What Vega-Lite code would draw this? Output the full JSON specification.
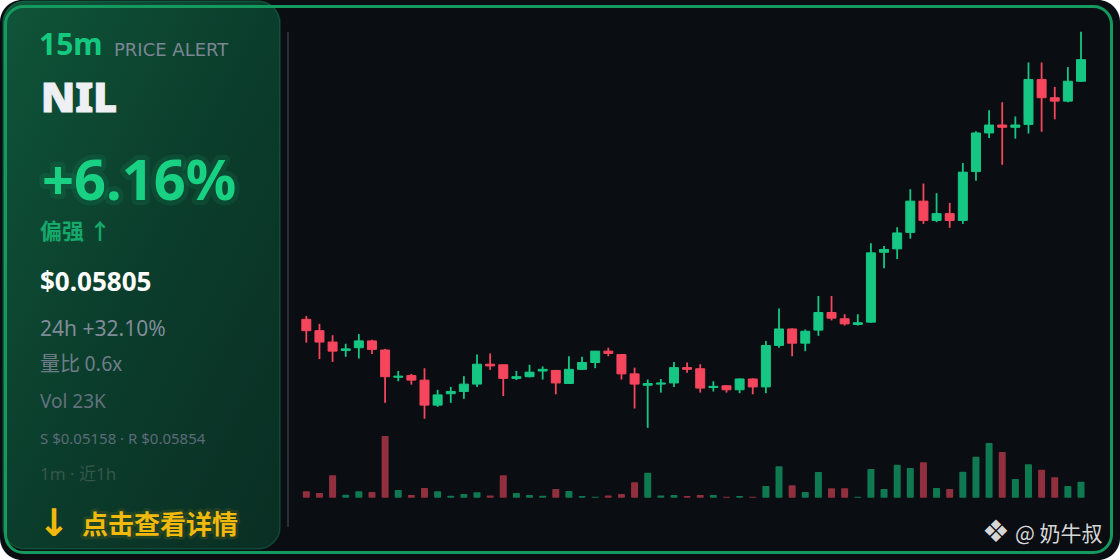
{
  "$schema": "https://vega.github.io/schema/vega-lite/v6.json",
  "width": 1120,
  "height": 560,
  "padding": 0,
  "autosize": {"type": "fit", "contains": "padding"},
  "background": "#ffffff",
  "config": {"view": {"stroke": null}},
  "datasets": {
    "candles": [
      {"i": 0, "open": 0.05348, "high": 0.05354, "low": 0.05307, "close": 0.05328, "vol": 640},
      {"i": 1, "open": 0.05328, "high": 0.05340, "low": 0.05278, "close": 0.05308, "vol": 470},
      {"i": 2, "open": 0.05308, "high": 0.05320, "low": 0.05273, "close": 0.05292, "vol": 2240},
      {"i": 3, "open": 0.05293, "high": 0.05305, "low": 0.05282, "close": 0.05296, "vol": 300},
      {"i": 4, "open": 0.05298, "high": 0.05322, "low": 0.05279, "close": 0.05310, "vol": 640},
      {"i": 5, "open": 0.05310, "high": 0.05312, "low": 0.05287, "close": 0.05295, "vol": 570},
      {"i": 6, "open": 0.05294, "high": 0.05296, "low": 0.05201, "close": 0.05247, "vol": 6170},
      {"i": 7, "open": 0.05246, "high": 0.05257, "low": 0.05239, "close": 0.05248, "vol": 770},
      {"i": 8, "open": 0.05249, "high": 0.05252, "low": 0.05233, "close": 0.05241, "vol": 270},
      {"i": 9, "open": 0.05241, "high": 0.05262, "low": 0.05173, "close": 0.05197, "vol": 970},
      {"i": 10, "open": 0.05197, "high": 0.05224, "low": 0.05194, "close": 0.05215, "vol": 640},
      {"i": 11, "open": 0.05217, "high": 0.05229, "low": 0.05201, "close": 0.05221, "vol": 200},
      {"i": 12, "open": 0.05221, "high": 0.05248, "low": 0.05208, "close": 0.05234, "vol": 370},
      {"i": 13, "open": 0.05234, "high": 0.05286, "low": 0.05229, "close": 0.05269, "vol": 540},
      {"i": 14, "open": 0.05269, "high": 0.05288, "low": 0.05259, "close": 0.05266, "vol": 230},
      {"i": 15, "open": 0.05268, "high": 0.05268, "low": 0.05213, "close": 0.05244, "vol": 2240},
      {"i": 16, "open": 0.05244, "high": 0.05257, "low": 0.05241, "close": 0.05247, "vol": 470},
      {"i": 17, "open": 0.05247, "high": 0.05268, "low": 0.05246, "close": 0.05255, "vol": 270},
      {"i": 18, "open": 0.05257, "high": 0.05265, "low": 0.05242, "close": 0.05260, "vol": 200},
      {"i": 19, "open": 0.05258, "high": 0.05259, "low": 0.05216, "close": 0.05236, "vol": 870},
      {"i": 20, "open": 0.05235, "high": 0.05283, "low": 0.05234, "close": 0.05260, "vol": 670},
      {"i": 21, "open": 0.05260, "high": 0.05282, "low": 0.05259, "close": 0.05272, "vol": 170},
      {"i": 22, "open": 0.05272, "high": 0.05292, "low": 0.05262, "close": 0.05292, "vol": 100},
      {"i": 23, "open": 0.05292, "high": 0.05298, "low": 0.05283, "close": 0.05288, "vol": 230},
      {"i": 24, "open": 0.05286, "high": 0.05287, "low": 0.05242, "close": 0.05252, "vol": 370},
      {"i": 25, "open": 0.05252, "high": 0.05263, "low": 0.05191, "close": 0.05234, "vol": 1540},
      {"i": 26, "open": 0.05232, "high": 0.05242, "low": 0.05157, "close": 0.05235, "vol": 2500},
      {"i": 27, "open": 0.05234, "high": 0.05243, "low": 0.05219, "close": 0.05236, "vol": 230},
      {"i": 28, "open": 0.05236, "high": 0.05273, "low": 0.05229, "close": 0.05263, "vol": 270},
      {"i": 29, "open": 0.05263, "high": 0.05272, "low": 0.05254, "close": 0.05260, "vol": 170},
      {"i": 30, "open": 0.05261, "high": 0.05269, "low": 0.05219, "close": 0.05227, "vol": 270},
      {"i": 31, "open": 0.05228, "high": 0.05239, "low": 0.05221, "close": 0.05230, "vol": 270},
      {"i": 32, "open": 0.05231, "high": 0.05232, "low": 0.05219, "close": 0.05224, "vol": 100},
      {"i": 33, "open": 0.05224, "high": 0.05244, "low": 0.05218, "close": 0.05243, "vol": 170},
      {"i": 34, "open": 0.05243, "high": 0.05244, "low": 0.05216, "close": 0.05229, "vol": 100},
      {"i": 35, "open": 0.05229, "high": 0.05310, "low": 0.05218, "close": 0.05302, "vol": 1170},
      {"i": 36, "open": 0.05302, "high": 0.05367, "low": 0.05298, "close": 0.05331, "vol": 3140},
      {"i": 37, "open": 0.05331, "high": 0.05332, "low": 0.05283, "close": 0.05306, "vol": 1240},
      {"i": 38, "open": 0.05306, "high": 0.05330, "low": 0.05292, "close": 0.05327, "vol": 570},
      {"i": 39, "open": 0.05329, "high": 0.05389, "low": 0.05319, "close": 0.05360, "vol": 2570},
      {"i": 40, "open": 0.05360, "high": 0.05389, "low": 0.05346, "close": 0.05350, "vol": 940},
      {"i": 41, "open": 0.05349, "high": 0.05357, "low": 0.05337, "close": 0.05340, "vol": 940},
      {"i": 42, "open": 0.05339, "high": 0.05357, "low": 0.05337, "close": 0.05342, "vol": 100},
      {"i": 43, "open": 0.05343, "high": 0.05482, "low": 0.05342, "close": 0.05465, "vol": 2870},
      {"i": 44, "open": 0.05466, "high": 0.05477, "low": 0.05438, "close": 0.05471, "vol": 870},
      {"i": 45, "open": 0.05472, "high": 0.05510, "low": 0.05454, "close": 0.05500, "vol": 3300},
      {"i": 46, "open": 0.05501, "high": 0.05577, "low": 0.05490, "close": 0.05556, "vol": 2970},
      {"i": 47, "open": 0.05556, "high": 0.05587, "low": 0.05516, "close": 0.05522, "vol": 3540},
      {"i": 48, "open": 0.05522, "high": 0.05570, "low": 0.05519, "close": 0.05534, "vol": 970},
      {"i": 49, "open": 0.05534, "high": 0.05553, "low": 0.05509, "close": 0.05522, "vol": 870},
      {"i": 50, "open": 0.05522, "high": 0.05623, "low": 0.05516, "close": 0.05607, "vol": 2600},
      {"i": 51, "open": 0.05608, "high": 0.05679, "low": 0.05592, "close": 0.05676, "vol": 4100},
      {"i": 52, "open": 0.05676, "high": 0.05716, "low": 0.05667, "close": 0.05690, "vol": 5470},
      {"i": 53, "open": 0.05690, "high": 0.05730, "low": 0.05620, "close": 0.05686, "vol": 4570},
      {"i": 54, "open": 0.05686, "high": 0.05705, "low": 0.05666, "close": 0.05690, "vol": 1870},
      {"i": 55, "open": 0.05691, "high": 0.05800, "low": 0.05675, "close": 0.05770, "vol": 3340},
      {"i": 56, "open": 0.05770, "high": 0.05800, "low": 0.05678, "close": 0.05738, "vol": 2800},
      {"i": 57, "open": 0.05738, "high": 0.05757, "low": 0.05700, "close": 0.05732, "vol": 2040},
      {"i": 58, "open": 0.05732, "high": 0.05792, "low": 0.05730, "close": 0.05767, "vol": 1170},
      {"i": 59, "open": 0.05767, "high": 0.05854, "low": 0.05766, "close": 0.05805, "vol": 1600}
    ]
  },
  "resolve": {"scale": {"y": "independent"}},
  "layer": [
    {
      "data": {"values": [{}]},
      "mark": {"type": "rect", "fill": "#0a0d11", "cornerRadius": 22},
      "encoding": {"x": {"value": 0}, "x2": {"value": 1120}, "y": {"value": 0}, "y2": {"value": 560}}
    },
    {
      "data": {"values": [{}]},
      "mark": {
        "type": "rect",
        "cornerRadius": 22,
        "fill": {
          "gradient": "linear", "x1": 0, "y1": 0, "x2": 1, "y2": 1,
          "stops": [{"offset": 0, "color": "#0f5539"}, {"offset": 0.5, "color": "#0b3d2c"}, {"offset": 1, "color": "#0a2e23"}]
        },
        "stroke": "#1fa36b",
        "strokeOpacity": 0.3,
        "strokeWidth": 1.5
      },
      "encoding": {"x": {"value": 3}, "x2": {"value": 280}, "y": {"value": 1}, "y2": {"value": 549}}
    },
    {
      "data": {"values": [{}]},
      "mark": {"type": "rect", "fillOpacity": 0, "stroke": "#14995f", "strokeWidth": 3, "cornerRadius": 18},
      "encoding": {"x": {"value": 5.5}, "x2": {"value": 1111.5}, "y": {"value": 6.5}, "y2": {"value": 552.5}}
    },
    {
      "data": {"values": [{}]},
      "mark": {"type": "rule", "stroke": "#2a2f35", "strokeWidth": 2},
      "encoding": {"x": {"value": 288}, "y": {"value": 32}, "y2": {"value": 527}}
    },
    {
      "data": {"name": "candles"},
      "mark": {"type": "bar", "width": 7, "cornerRadius": 1},
      "encoding": {
        "x": {"field": "i", "type": "quantitative", "scale": {"domain": [-23.33, 61.97], "nice": false, "zero": false, "padding": 0}, "axis": null},
        "y": {"field": "vol", "type": "quantitative", "scale": {"domain": [-6230, 49770], "nice": false, "zero": false}, "axis": null},
        "y2": {"datum": 0},
        "color": {"condition": {"test": "datum.close >= datum.open", "value": "#0f7a52"}, "value": "#922f3e"}
      }
    },
    {
      "data": {"name": "candles"},
      "mark": {"type": "rule", "strokeWidth": 1.8},
      "encoding": {
        "x": {"field": "i", "type": "quantitative", "scale": {"domain": [-23.33, 61.97], "nice": false, "zero": false, "padding": 0}, "axis": null},
        "y": {"field": "low", "type": "quantitative", "scale": {"domain": [0.049244, 0.0591], "nice": false, "zero": false}, "axis": null},
        "y2": {"field": "high"},
        "color": {"condition": {"test": "datum.close >= datum.open", "value": "#16c784"}, "value": "#f6465d"}
      }
    },
    {
      "data": {"name": "candles"},
      "mark": {"type": "bar", "width": 9, "strokeWidth": 1},
      "encoding": {
        "x": {"field": "i", "type": "quantitative", "scale": {"domain": [-23.33, 61.97], "nice": false, "zero": false, "padding": 0}, "axis": null},
        "y": {"field": "open", "type": "quantitative", "scale": {"domain": [0.049244, 0.0591], "nice": false, "zero": false}, "axis": null},
        "y2": {"field": "close"},
        "color": {"condition": {"test": "datum.close >= datum.open", "value": "#16c784"}, "value": "#f6465d"},
        "stroke": {"condition": {"test": "datum.close >= datum.open", "value": "#16c784"}, "value": "#f6465d"}
      }
    },
    {
      "data": {"values": [{"t": "15m"}]},
      "mark": {"type": "text", "font": "Noto Sans", "fontWeight": "bold", "fontSize": 30, "fill": "#14c97f", "align": "left", "baseline": "alphabetic"},
      "encoding": {"text": {"field": "t"}, "x": {"value": 39}, "y": {"value": 55}}
    },
    {
      "data": {"values": [{"t": "PRICE ALERT"}]},
      "mark": {"type": "text", "font": "DejaVu Sans", "fontSize": 18, "fill": "#7a8793", "align": "left", "baseline": "alphabetic"},
      "encoding": {"text": {"field": "t"}, "x": {"value": 114}, "y": {"value": 56}}
    },
    {
      "data": {"values": [{"t": "NIL"}]},
      "mark": {"type": "text", "font": "Noto Sans", "fontWeight": 900, "fontSize": 41, "fill": "#eef0f4", "stroke": "#eef0f4", "strokeWidth": 1, "align": "left", "baseline": "alphabetic"},
      "encoding": {"text": {"field": "t"}, "x": {"value": 41}, "y": {"value": 112}}
    },
    {
      "data": {"values": [{"t": "+6.16%"}]},
      "mark": {"type": "text", "font": "Noto Sans", "fontWeight": "bold", "fontSize": 56, "fill": "#19d183", "fillOpacity": 0, "stroke": "#19d183", "strokeWidth": 10, "strokeOpacity": 0.1, "strokeJoin": "round", "align": "left", "baseline": "alphabetic"},
      "encoding": {"text": {"field": "t"}, "x": {"value": 42}, "y": {"value": 200}}
    },
    {
      "data": {"values": [{"t": "+6.16%"}]},
      "mark": {"type": "text", "font": "Noto Sans", "fontWeight": "bold", "fontSize": 56, "fill": "#19d183", "align": "left", "baseline": "alphabetic"},
      "encoding": {"text": {"field": "t"}, "x": {"value": 42}, "y": {"value": 200}}
    },
    {
      "data": {"values": [{"t": "偏强 ↑"}]},
      "mark": {"type": "text", "font": "Noto Sans CJK SC", "fontWeight": "bold", "fontSize": 22, "fill": "#15a96b", "align": "left", "baseline": "alphabetic"},
      "encoding": {"text": {"field": "t"}, "x": {"value": 40}, "y": {"value": 239}}
    },
    {
      "data": {"values": [{"t": "$0.05805"}]},
      "mark": {"type": "text", "font": "Noto Sans", "fontWeight": "bold", "fontSize": 26, "fill": "#ffffff", "align": "left", "baseline": "alphabetic"},
      "encoding": {"text": {"field": "t"}, "x": {"value": 40}, "y": {"value": 291}}
    },
    {
      "data": {"values": [{"t": "24h +32.10%"}]},
      "mark": {"type": "text", "font": "Noto Sans", "fontSize": 21, "fill": "#7f8c97", "align": "left", "baseline": "alphabetic"},
      "encoding": {"text": {"field": "t"}, "x": {"value": 40}, "y": {"value": 336}}
    },
    {
      "data": {"values": [{"t": "量比 0.6x"}]},
      "mark": {"type": "text", "font": "Noto Sans CJK SC", "fontSize": 20, "fill": "#6f7d89", "align": "left", "baseline": "alphabetic"},
      "encoding": {"text": {"field": "t"}, "x": {"value": 40}, "y": {"value": 371}}
    },
    {
      "data": {"values": [{"t": "Vol 23K"}]},
      "mark": {"type": "text", "font": "Noto Sans", "fontSize": 19, "fill": "#62717e", "align": "left", "baseline": "alphabetic"},
      "encoding": {"text": {"field": "t"}, "x": {"value": 40}, "y": {"value": 408}}
    },
    {
      "data": {"values": [{"t": "S $0.05158 · R $0.05854"}]},
      "mark": {"type": "text", "font": "Noto Sans", "fontSize": 15, "fill": "#5c6b78", "align": "left", "baseline": "alphabetic"},
      "encoding": {"text": {"field": "t"}, "x": {"value": 40}, "y": {"value": 444}}
    },
    {
      "data": {"values": [{"t": "1m · 近1h"}]},
      "mark": {"type": "text", "font": "Noto Sans, Noto Sans CJK SC", "fontSize": 17, "fill": "#35564d", "align": "left", "baseline": "alphabetic"},
      "encoding": {"text": {"field": "t"}, "x": {"value": 40}, "y": {"value": 480}}
    },
    {
      "data": {"values": [{"t": "↓"}]},
      "mark": {"type": "text", "font": "DejaVu Sans", "fontWeight": "bold", "fontSize": 38, "fill": "#f0b90b", "align": "center", "baseline": "alphabetic"},
      "encoding": {"text": {"field": "t"}, "x": {"value": 54}, "y": {"value": 536}}
    },
    {
      "data": {"values": [{"t": "点击查看详情"}]},
      "mark": {"type": "text", "font": "Noto Sans CJK SC", "fontWeight": "bold", "fontSize": 26, "fill": "#f0b90b", "fillOpacity": 0, "stroke": "#f0b90b", "strokeWidth": 6, "strokeOpacity": 0.1, "strokeJoin": "round", "align": "left", "baseline": "alphabetic"},
      "encoding": {"text": {"field": "t"}, "x": {"value": 82}, "y": {"value": 534}}
    },
    {
      "data": {"values": [{"t": "点击查看详情"}]},
      "mark": {"type": "text", "font": "Noto Sans CJK SC", "fontWeight": "bold", "fontSize": 26, "fill": "#f0b90b", "align": "left", "baseline": "alphabetic"},
      "encoding": {"text": {"field": "t"}, "x": {"value": 82}, "y": {"value": 534}}
    },
    {
      "data": {"values": [{"t": "❖"}]},
      "mark": {"type": "text", "font": "DejaVu Sans", "fontSize": 31, "fill": "#d6d6d6", "align": "center", "baseline": "middle"},
      "encoding": {"text": {"field": "t"}, "x": {"value": 996}, "y": {"value": 533}}
    },
    {
      "data": {"values": [{"t": "@ 奶牛叔"}]},
      "mark": {"type": "text", "font": "Noto Sans CJK SC", "fontSize": 21, "fill": "#d6d6d6", "align": "left", "baseline": "alphabetic"},
      "encoding": {"text": {"field": "t"}, "x": {"value": 1015}, "y": {"value": 541}}
    }
  ]
}
